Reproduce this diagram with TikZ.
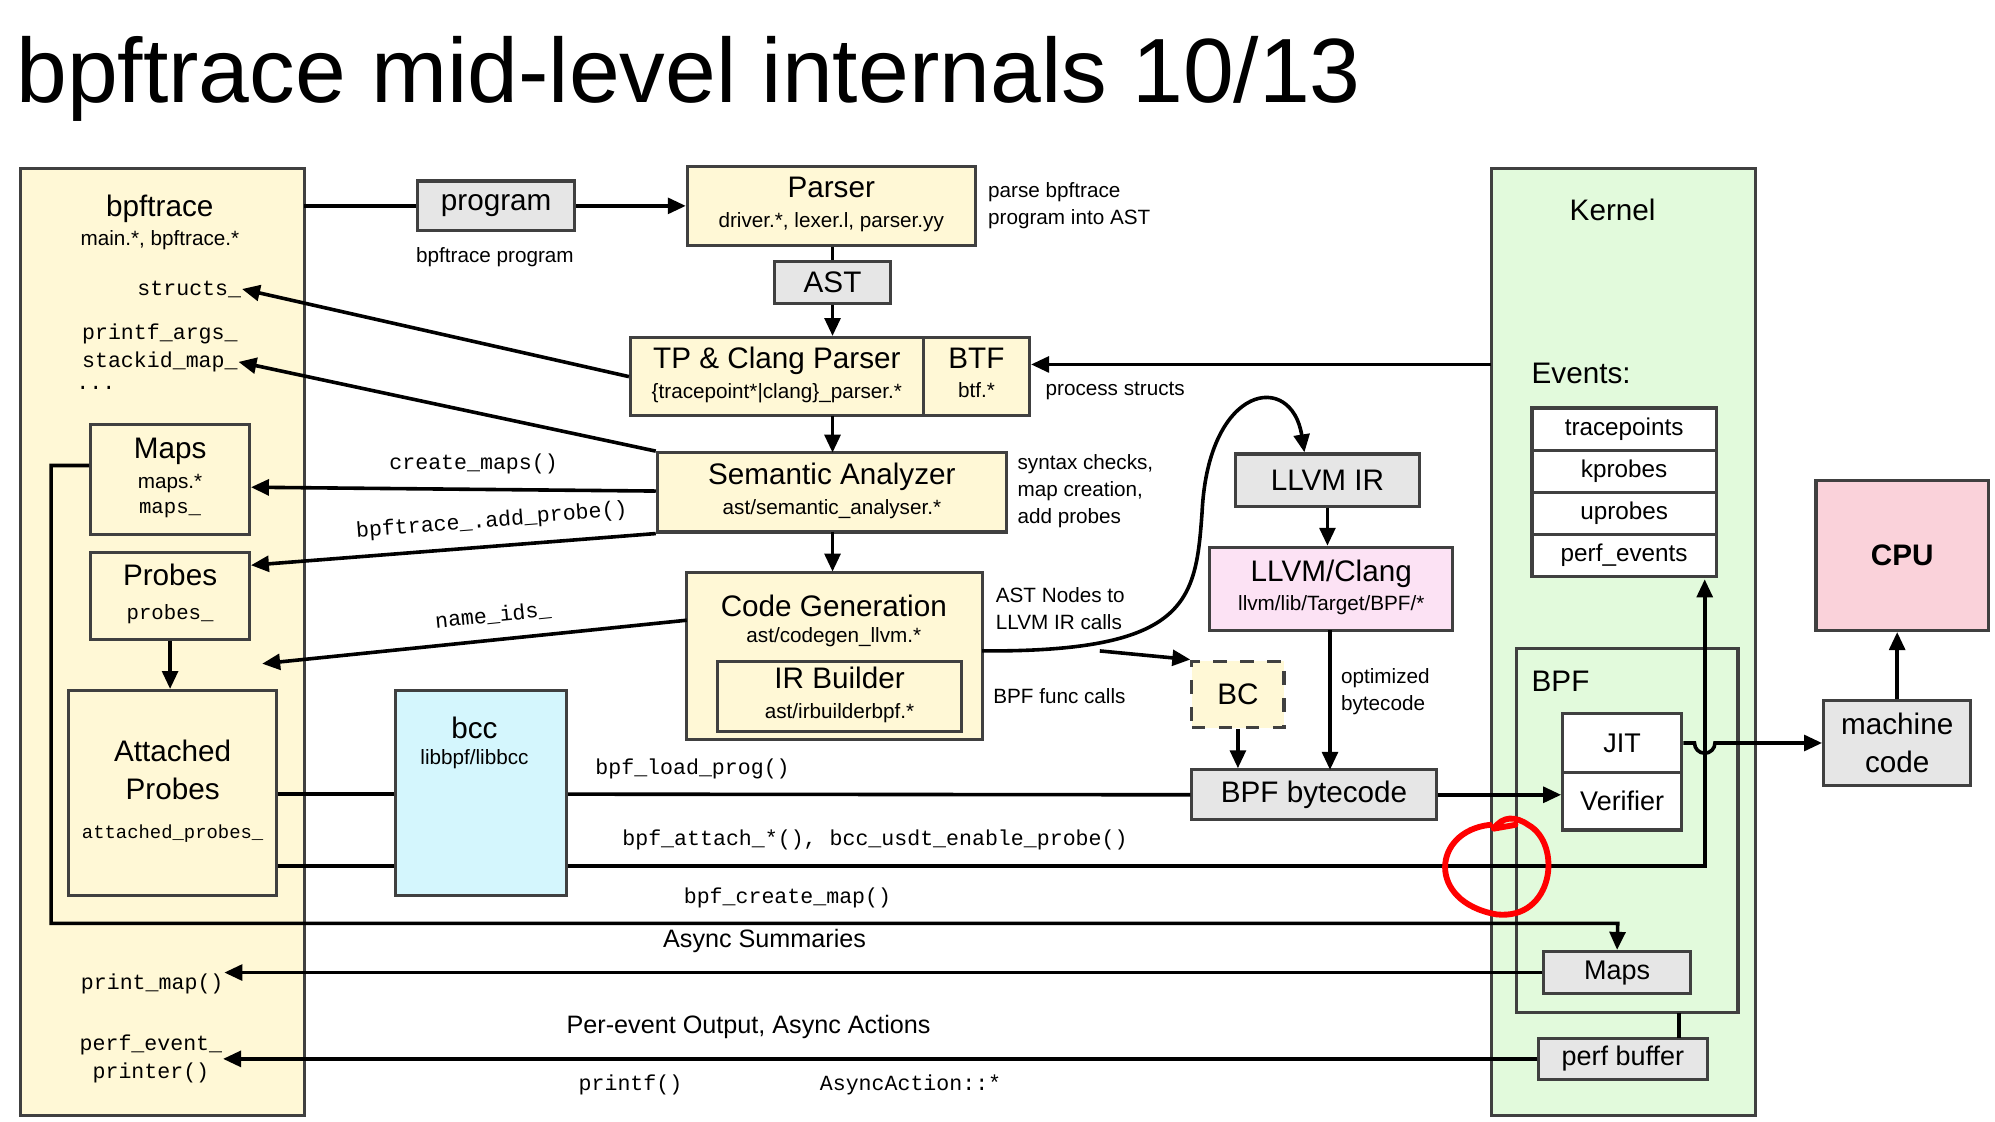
\documentclass[tikz,border=0pt]{standalone}
\usepackage{fontspec}
\setmainfont{Liberation Sans}
\setmonofont{Liberation Mono}
\usetikzlibrary{arrows.meta, positioning}
\definecolor{yel}{HTML}{FFF8D6}
\definecolor{grn}{HTML}{E2FADC}
\definecolor{gry}{HTML}{E6E6E6}
\definecolor{pnk}{HTML}{FCE2F4}
\definecolor{cpu}{HTML}{FAD2DA}
\definecolor{cyn}{HTML}{D4F6FD}
\tikzset{
  box/.style={draw=black!75, line width=0.7pt, inner sep=0pt, align=center, font=\fontsize{4.6}{5.6}\selectfont},
  lbl/.style={font=\fontsize{6.6}{7.6}\selectfont, inner sep=0pt, align=center},
  sml/.style={font=\fontsize{4.6}{6}\selectfont, inner sep=0pt, align=left},
  mono/.style={font=\fontsize{4.8}{6.2}\ttfamily, inner sep=0pt, align=center},
  ar/.style={-{Triangle[length=4pt,width=3.5pt]}, line width=0.8pt},
  ln/.style={line width=0.8pt}
}
\newcommand{\two}[2]{\begin{tabular}{@{}c@{}}\fontsize{6.6}{7.6}\selectfont #1\\[1pt]\fontsize{4.6}{5.6}\selectfont #2\end{tabular}}
\newcommand{\twott}[2]{\begin{tabular}{@{}c@{}}\fontsize{6.6}{7.6}\selectfont #1\\[2pt]\fontsize{4.6}{5.6}\ttfamily #2\end{tabular}}
\begin{document}
\begin{tikzpicture}[x=0.01cm, y=-0.01cm]
\useasboundingbox (0,0) rectangle (1560,877);
\node[anchor=base west, inner sep=0, font=\fontsize{20.3}{24}\selectfont] (title) at (12,80) {bpftrace mid-level internals 10/13};

% big panels
\draw[box, fill=yel] (16,132) rectangle (238,872);
\draw[box, fill=grn] (1166,132) rectangle (1373,872);
\node[lbl] (bt) at (125,163) {bpftrace};
\node[sml] (btf) at (125,188) {main.*, bpftrace.*};
\node[mono] (structs) at (148,226) {structs\_};
\node[mono] (pargs) at (125,261) {printf\_args\_};
\node[mono] (stackid) at (125,283) {stackid\_map\_};
\node[mono] (dots) at (75,303) {...};
\node[box, fill=yel, minimum width=124*0.01cm, minimum height=86*0.01cm] (maps) at (133,375) {\begin{tabular}{@{}c@{}}\fontsize{6.6}{7.6}\selectfont Maps\\[1pt]\fontsize{4.6}{5.6}\selectfont maps.*\\\fontsize{4.6}{5.6}\ttfamily maps\_\end{tabular}};
\node[box, fill=yel, minimum width=124*0.01cm, minimum height=68*0.01cm] (probes) at (133,466) {\twott{Probes}{probes\_}};
\node[box, fill=yel, minimum width=163*0.01cm, minimum height=160*0.01cm] (att) at (135,620) {\begin{tabular}{@{}c@{}}\fontsize{6.6}{8.4}\selectfont Attached\\[2pt]\fontsize{6.6}{8.4}\selectfont Probes\\[3pt]\fontsize{4.2}{5.6}\ttfamily attached\_probes\_\end{tabular}};
\node[mono] (pmap) at (119,769) {print\_map()};
\node[mono] (perfp) at (118,828) {perf\_event\_\\printer()};

% middle column
\node[box, fill=gry, minimum width=123*0.01cm, minimum height=39*0.01cm, font=\fontsize{6.6}{7.6}\selectfont] (prog) at (388,161) {program};
\node[sml] (progl) at (387,201) {bpftrace program};
\node[box, fill=yel, minimum width=225*0.01cm, minimum height=62*0.01cm] (parser) at (650,161) {\two{Parser}{driver.*, lexer.l, parser.yy}};
\node[sml, anchor=north west] (parsel) at (772,142) {parse bpftrace\\program into AST};
\node[box, fill=gry, minimum width=91*0.01cm, minimum height=33*0.01cm, font=\fontsize{6.6}{7.6}\selectfont] (ast) at (651,221) {AST};
\node[box, fill=yel, minimum width=229*0.01cm, minimum height=61*0.01cm] (tp) at (607.5,294.5) {\two{TP \& Clang Parser}{\{tracepoint*|clang\}\_parser.*}};
\node[box, fill=yel, minimum width=83*0.01cm, minimum height=61*0.01cm] (btfb) at (763.5,294.5) {\two{BTF}{btf.*}};
\node[sml] (procs) at (872,306) {process structs};
\node[box, fill=yel, minimum width=273*0.01cm, minimum height=62*0.01cm] (sem) at (650.5,385) {\two{Semantic Analyzer}{ast/semantic\_analyser.*}};
\node[sml, anchor=north west] (seml) at (795,355) {syntax checks,\\map creation,\\add probes};
\draw[box, fill=yel] (537,448) rectangle (768,578);
\node[lbl] (cg) at (652,474) {Code Generation};
\node[sml] (cgf) at (652,498) {ast/codegen\_llvm.*};
\node[box, fill=yel, minimum width=191*0.01cm, minimum height=55*0.01cm] (irb) at (656.5,544.5) {\two{IR Builder}{ast/irbuilderbpf.*}};
\node[sml, anchor=north west] (cgl) at (778,459) {AST Nodes to\\LLVM IR calls};
\node[sml, anchor=west] (bfc) at (776,544) {BPF func calls};
\node[box, fill=cyn, minimum width=134*0.01cm, minimum height=160*0.01cm] (bcc) at (376,620) {};
\node[lbl] (bccl) at (371,569) {bcc};
\node[sml] (bccf) at (371,594) {libbpf/libbcc};

% llvm column
\node[box, fill=gry, minimum width=144*0.01cm, minimum height=41*0.01cm, font=\fontsize{6.6}{7.6}\selectfont] (ir) at (1038,375.5) {LLVM IR};
\node[box, fill=pnk, minimum width=190*0.01cm, minimum height=65*0.01cm] (llvm) at (1041,460.5) {\two{LLVM/Clang}{llvm/lib/Target/BPF/*}};
\node[box, fill=yel, dashed, minimum width=72*0.01cm, minimum height=52*0.01cm, font=\fontsize{6.6}{7.6}\selectfont] (bc) at (968,543) {BC};
\node[sml, anchor=north west] (optl) at (1048,522) {optimized\\bytecode};
\node[box, fill=gry, minimum width=191*0.01cm, minimum height=39*0.01cm, font=\fontsize{6.6}{7.6}\selectfont] (bytec) at (1027.5,621.5) {BPF bytecode};

% kernel
\node[lbl] (kern) at (1261,164) {Kernel};
\node[lbl, anchor=west] (evl) at (1197,292) {Events:};
\foreach \n/\t [count=\i] in {tpe/tracepoints, kpe/kprobes, upe/uprobes, pee/perf\_events}
  \node[box, fill=white, minimum width=144*0.01cm, minimum height=33*0.01cm, font=\fontsize{5.4}{6.4}\selectfont] (\n) at (1270,{302.5+\i*33}) {\t};
\draw[box] (1186,507) rectangle (1359,792);
\node[lbl, anchor=west] (bpfl) at (1197,533) {BPF};
\node[box, fill=white, minimum width=93*0.01cm, minimum height=46*0.01cm, font=\fontsize{6}{7}\selectfont] (jit) at (1268.5,581) {JIT};
\node[box, fill=white, minimum width=93*0.01cm, minimum height=45*0.01cm, font=\fontsize{6}{7}\selectfont] (ver) at (1268.5,626.5) {Verifier};
\node[box, fill=gry, minimum width=115*0.01cm, minimum height=33*0.01cm, font=\fontsize{6}{7}\selectfont] (kmaps) at (1264.5,760.5) {Maps};
\node[box, fill=gry, minimum width=132*0.01cm, minimum height=32*0.01cm, font=\fontsize{6}{7}\selectfont] (pbuf) at (1269,828) {perf buffer};
\node[box, fill=cpu, minimum width=135*0.01cm, minimum height=117*0.01cm, font=\fontsize{6.6}{7.6}\selectfont\bfseries] (cpu) at (1487.5,434.5) {CPU};
\node[box, fill=gry, minimum width=115*0.01cm, minimum height=66*0.01cm, font=\fontsize{6.6}{8.4}\selectfont] (mc) at (1483.5,581) {machine\\code};

% connectors
\draw[ln] (238,161) -- (prog.west);
\draw[ar] (prog.east) -- (parser.west);
\draw[ln] (parser.south -| ast.north) -- (ast.north);
\draw[ar] (ast.south) -- (ast.south |- tp.north);
\draw[ar] (1166,285) -- (btfb.east |- 0,285);
\draw[ar] (tp.west) -- (structs.east);
\draw[ar] (sem.north west) -- (stackid.east);
\draw[ar] (651,325) -- (651,354);
\draw[ar] (sem.west |- 0,384) -- node[mono, above=3pt, pos=0.45] {create\_maps()} (maps.east |- 0,381);
\draw[ar] (sem.south west) -- node[mono, above=3pt, sloped, pos=0.4] {bpftrace\_.add\_probe()} (probes.east |- 0,442);
\draw[ar] (651,416) -- (651,447);
\draw[ar] (537,485) -- node[mono, above=3pt, sloped, pos=0.45] {name\_ids\_} (205,519);
\draw[ar] (probes.south) -- (att.north -| probes.south);
\draw[ar] (768,509) .. controls (930,510) and (935,470) .. (940,400) .. controls (945,300) and (1010,290) .. (ir.north -| 1020,0);
\draw[ar] (860,509) -- (bc.north west);
\draw[ar] (ir.south) -- (ir.south |- llvm.north);
\draw[ar] (1040,493) -- (1040,602);
\draw[ar] (bc.south) -- (bc.south |- bytec.north);
\draw[ar] (bytec.east) -- (ver.west |- bytec.east);
\draw[ln] (att.east |- 0,621) -- (bcc.west |- 0,621);
\draw[ln] (bcc.east |- 0,621) -- node[mono, above=3pt, pos=0.2] {bpf\_load\_prog()} (bytec.west);
\draw[ln] (att.east |- 0,677) -- (bcc.west |- 0,677);
\coordinate (atc) at (1333,677);
\draw[ar] (bcc.east |- 0,677) -- node[mono, above=3pt, pos=0.27] {bpf\_attach\_*(), bcc\_usdt\_enable\_probe()} (atc) -- (1333,453);
\coordinate (mc1) at (40,364);
\coordinate (mc2) at (40,722);
\draw[ar] (maps.west |- mc1) -- (mc1) -- (mc2) -- node[mono, above=3pt, pos=0.47] {bpf\_create\_map()} (1265,722) -- (kmaps.north);
\draw[ar] (jit.east) -- (1325,581) arc (180:0:8) -- (mc.west);
\draw[ar] (mc.north) -- (mc.north |- cpu.south);
\draw[ar] (kmaps.west) -- node[lbl, above=4pt, pos=0.59, font=\fontsize{5.6}{6.6}\selectfont] {Async Summaries} (pmap.east |- kmaps.west);
\draw[ln] (1313,792) -- (1313,812);
\draw[ar] (pbuf.west) -- node[lbl, above=4pt, pos=0.6, font=\fontsize{5.6}{6.6}\selectfont] {Per-event Output, Async Actions} (perfp.east |- pbuf.west);
\node[mono] (pf) at (493,848) {printf()};
\node[mono] (aa) at (712,848) {AsyncAction::*};

% red mark
\draw[red, line width=1.3pt, line cap=round] (1165,645) .. controls (1120,650) and (1115,705) .. (1170,715) .. controls (1215,720) and (1222,660) .. (1195,645) .. controls (1185,638) and (1175,638) .. (1168,648) (1168,648) -- (1185,645);
\end{tikzpicture}
\end{document}
